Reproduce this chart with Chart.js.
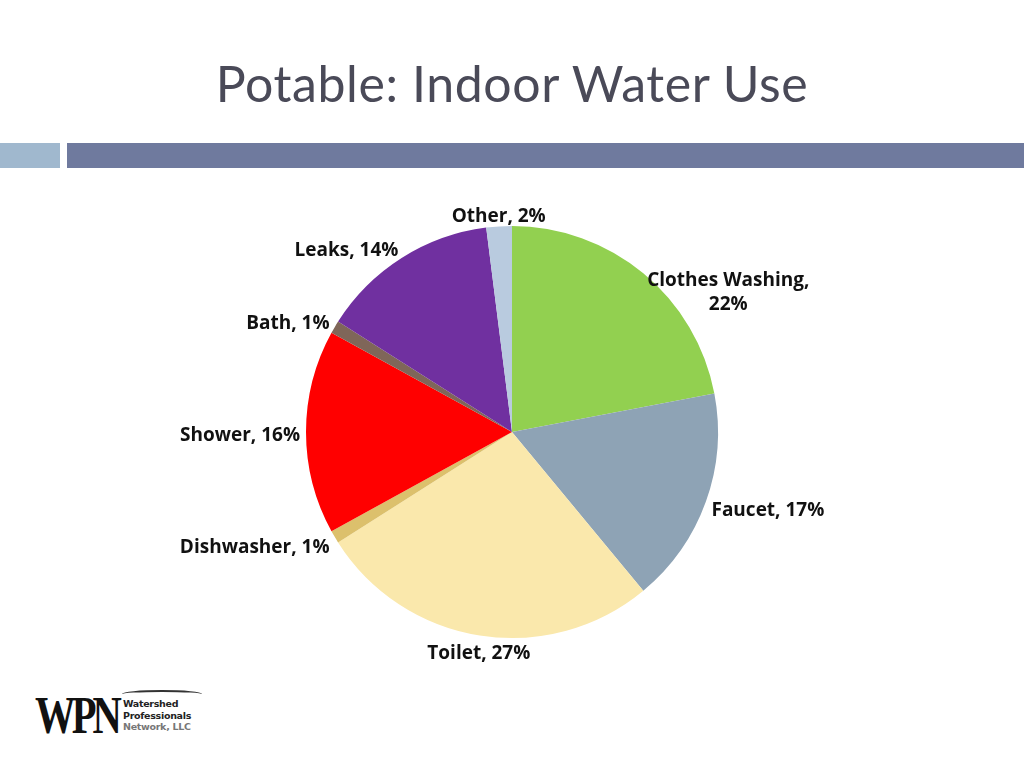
<!DOCTYPE html>
<html>
<head>
<meta charset="utf-8">
<script src="https://cdn.jsdelivr.net/npm/chart.js@4"></script>
<style>
  html, body { margin: 0; padding: 0; background: #fff; }
  body { width: 1024px; height: 768px; position: relative; overflow: hidden; }
  #title {
    position: absolute; left: 0; width: 1024px; top: 53px; text-align: center;
    font-family: 'Lato', sans-serif; font-size: 50px; color: #4a4a58; letter-spacing: 0.6px;
  }
  .bar { position: absolute; top: 143px; height: 25px; }
  #bar1 { left: 0; width: 60px; background: #a0b8ce; }
  #bar2 { left: 67px; width: 957px; background: #6f7a9e; }
  #chartBox { position: absolute; left: 0; top: 190px; width: 1024px; height: 480px; }
  #logo { position: absolute; left: 35px; top: 686px; height: 50px; }
  #logo .wpn {
    position: absolute; left: 0; top: 0; font-family: 'Liberation Serif', serif; font-weight: bold;
    font-size: 52px; letter-spacing: -5px; color: #111; transform: scaleX(0.78); transform-origin: left;
  }
  #logo .name {
    position: absolute; left: 88px; top: 12px; font-family: 'DejaVu Sans', sans-serif; font-weight: bold;
    font-size: 9.5px; line-height: 11.5px; color: #222; white-space: nowrap; letter-spacing: -0.3px;
  }
  #logo .name span { color: #777; }
  #logo .wave { position: absolute; left: 87px; top: 4px; width: 80px; height: 6px; border-top: 2px solid #333; border-radius: 50%; }
</style>
</head>
<body>
<div id="title">Potable: Indoor Water Use</div>
<div class="bar" id="bar1"></div>
<div class="bar" id="bar2"></div>
<div id="chartBox"><canvas id="waterChart"></canvas></div>
<div id="logo">
  <div class="wpn">WPN</div>
  <div class="wave"></div>
  <div class="name">Watershed<br>Professionals<br><span>Network, LLC</span></div>
</div>
<script>
// Indoor water use shares (%), clockwise from 12 o'clock
const categories = ['Clothes Washing', 'Faucet', 'Toilet', 'Dishwasher', 'Shower', 'Bath', 'Leaks', 'Other'];
const shares = [22, 17, 27, 1, 16, 1, 14, 2];
const sliceColors = ['#92d050', '#8ea3b5', '#fae8ac', '#dcc06c', '#ff0000', '#7f6659', '#7030a0', '#b9cbdf'];

const labelFont = "bold 19px 'Open Sans', sans-serif";

// draws "Name, x%" outside each slice, like the office chart labels
const outsideLabels = {
    id: 'outsideLabels',
    afterDatasetsDraw(chart) {
        const ctx = chart.ctx;
        const meta = chart.getDatasetMeta(0);
        ctx.save();
        ctx.font = labelFont;
        ctx.fillStyle = '#111';
        meta.data.forEach((arc, i) => {
            const p = arc.getProps(['x', 'y', 'startAngle', 'endAngle', 'outerRadius'], true);
            const mid = (p.startAngle + p.endAngle) / 2;
            const dx = Math.cos(mid), dy = Math.sin(mid);
            const ax = p.x + dx * (p.outerRadius + 6);
            const ay = p.y + dy * (p.outerRadius + 6);

            // wrap long labels onto two lines
            let text = categories[i] + ', ' + shares[i] + '%';
            let lines = [text];
            if (ctx.measureText(text).width > 185) {
                lines = [categories[i] + ',', shares[i] + '%'];
            }
            const lineH = 24;
            const blockW = Math.max(...lines.map(l => ctx.measureText(l).width));
            let cx;
            if (Math.abs(dx) < 0.3) cx = ax;
            else if (dx > 0) cx = ax + blockW / 2;
            else cx = ax - blockW / 2;
            let top = ay + 4 + dy * 8 - (lines.length * lineH) / 2;
            if (lines.length > 1) top = ay;
            ctx.textAlign = 'center';
            ctx.textBaseline = 'middle';
            lines.forEach((l, k) => ctx.fillText(l, cx, top + lineH / 2 + k * lineH));
        });
        ctx.restore();
    }
};

new Chart(document.getElementById('waterChart'), {
    type: 'pie',
    data: {
        labels: categories,
        datasets: [{
            data: shares,
            backgroundColor: sliceColors,
            borderWidth: 0
        }]
    },
    options: {
        responsive: true,
        maintainAspectRatio: false,
        animation: false,
        layout: { padding: { top: 36, bottom: 32 } },
        plugins: {
            legend: { display: false },
            tooltip: { enabled: false },
            title: { display: false }
        }
    },
    plugins: [outsideLabels]
});
</script>
</body>
</html>
